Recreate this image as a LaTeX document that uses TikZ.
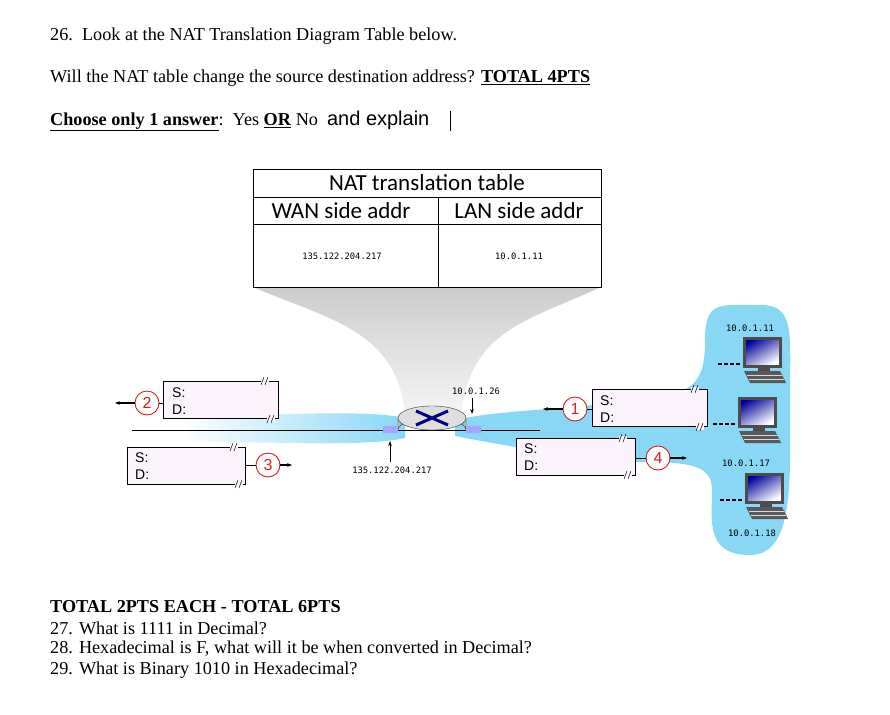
\documentclass[tikz,border=0pt]{standalone}
\usepackage{fontspec}
\setmainfont{Liberation Serif}
\newfontfamily\arialf{Liberation Sans}
\newfontfamily\calf{Carlito}
\newfontfamily\monof{DejaVu Sans Mono}
\usetikzlibrary{shapes.geometric,arrows.meta}
\definecolor{lb}{RGB}{135,215,245}
\definecolor{pinkish}{RGB}{252,244,252}
\definecolor{nred}{RGB}{215,30,30}
\begin{document}
\begin{tikzpicture}[x=1pt,y=-1pt,
  q/.style={anchor=west,inner sep=0,font=\fontsize{18.2}{20}\selectfont},
  sd/.style={draw,fill=pinkish,line width=0.7pt,minimum width=#1,minimum height=37,anchor=north west,inner sep=0},
  sdt/.style={anchor=west,inner sep=0,font=\arialf\fontsize{14}{15}\selectfont},
  num/.style={circle,draw=nred,line width=0.9pt,fill=white,minimum size=24,inner sep=0,text=nred,font=\arialf\fontsize{16}{16}\selectfont},
  ip/.style={font=\monof\fontsize{8.8}{9}\selectfont,inner sep=0},
  arr/.style={-{Stealth[length=5pt]},line width=1.2pt},
  brk/.style={line width=0.5pt}]
\useasboundingbox (0,0) rectangle (890,714);
\fill[white] (0,0) rectangle (890,714);
% text
\node[q] (t1) at (50,36) {26.\ \ Look at the NAT Translation Diagram Table below.};
\node[q] (t2) at (50,78) {Will the NAT table change the source destination address? \underline{\textbf{TOTAL 4PTS}}};
\node[q] (t3) at (50,121) {\underline{\textbf{Choose only 1 answer}}:\ \ Yes \underline{\textbf{OR}} No\ \ {\arialf\fontsize{20}{22}\selectfont and explain}};
\draw[line width=0.6pt] (450,111) -- (450,131);
\node[q] (b1) at (50,607) {\textbf{TOTAL 2PTS EACH - TOTAL 6PTS}};
\node[q] (b2) at (50,628) {27. What is 1111 in Decimal?};
\node[q] (b3) at (50,649) {28. Hexadecimal is F, what will it be when converted in Decimal?};
\node[q] (b4) at (50,670) {29. What is Binary 1010 in Hexadecimal?};
% blue regions
\shade[left color=white,right color=lb] (180,417) .. controls (300,414) and (370,410) .. (405,418) -- (405,438) .. controls (370,446) and (300,443) .. (180,441) -- cycle;
\fill[lb] (455,420) .. controls (500,410) and (560,410) .. (620,402) .. controls (690,395) and (705,390) .. (705,340)
  .. controls (705,300) and (720,305) .. (760,305) .. controls (795,305) and (790,330) .. (790,400)
  .. controls (790,480) and (795,555) .. (750,555) .. controls (705,555) and (712,520) .. (712,490)
  .. controls (712,465) and (690,462) .. (640,462) .. controls (590,460) and (500,445) .. (455,436) -- cycle;
% funnel
\shade[top color=gray!40,bottom color=gray!8] (253,287) .. controls (330,320) and (395,330) .. (405,412) -- (462,412) .. controls (470,330) and (530,320) .. (601,287) -- cycle;
% table
\draw[line width=0.7pt,fill=white] (253,169) rectangle (601,287);
\draw[line width=0.7pt] (253,197) -- (601,197) (253,224) -- (601,224) (438,197) -- (438,287);
\node[font=\calf\fontsize{23}{25}\selectfont] (tt) at (427,183) {NAT translation table};
\node[font=\calf\fontsize{23}{25}\selectfont] (wh) at (341,211) {WAN side addr};
\node[font=\calf\fontsize{23}{25}\selectfont] (lh) at (519,211) {LAN side addr};
\node[ip] (wv) at (342,256) {135.122.204.217};
\node[ip] (lv) at (519,256) {10.0.1.11};
% line
\draw[line width=0.9pt] (132,430) -- (540,430);
% router
\fill[gray!55] (398,418) -- (398,430) arc (180:360:34 and 12) -- (466,418) -- cycle;
\draw[gray!40!black,line width=0.4pt] (398,418) -- (398,430) arc (180:360:34 and 12) -- (466,418);
\node[ellipse,draw=gray!40!black,fill=gray!25,minimum width=68,minimum height=24,inner sep=0] (rt) at (432,418) {};
\draw[blue!50!black,line width=3pt] (416,411) -- (448,425) (448,411) -- (416,425);
\fill[blue!35!white] (383,426) rectangle (398,433) (466,426) rectangle (481,433);
\node[ip] (ipa) at (476,391) {10.0.1.26};
\coordinate (pa) at (472,414);
\draw[arr,line width=0.8pt] (472,398) -- (pa);
\node[ip] (ipb) at (392,470) {135.122.204.217};
\coordinate (pb) at (390,441);
\draw[arr,line width=0.8pt] (390,462) -- (pb);
% boxes
\node[sd=115] (bx2) at (163,381) {}; \node[sdt] at (172,393) {S:}; \node[sdt] at (172,410) {D:};
\node[sd=118] (bx3) at (127,447) {}; \node[sdt] at (135,458) {S:}; \node[sdt] at (135,475) {D:};
\node[sd=115] (bx1) at (592,389) {}; \node[sdt] at (600,401) {S:}; \node[sdt] at (600,418) {D:};
\node[sd=119] (bx4) at (516,438) {}; \node[sdt] at (524,449) {S:}; \node[sdt] at (524,466) {D:};
\foreach \x/\y in {265/381,271/419,234/447,239/484,695/389,700/427,623/438,628/475}{
  \fill[pinkish] (\x-4,\y-2.5) rectangle (\x+4,\y+2.5);
  \draw[brk] (\x-4,\y+4) -- (\x-1,\y-4) (\x,\y+4) -- (\x+3,\y-4);}
\node[num] (n2) at (147,403) {2}; \draw (n2) -- (bx2.west|-n2);
\coordinate (e2) at (115,403); \draw[arr] (n2) -- (e2);
\node[num] (n3) at (268,465) {3}; \draw (n3) -- (bx3.east|-n3);
\coordinate (e3) at (292,465); \draw[arr] (n3) -- (e3);
\node[num] (n1) at (575,409) {1}; \draw (n1) -- (bx1.west|-n1);
\coordinate (e1) at (543,409); \draw[arr] (n1) -- (e1);
\node[num] (n4) at (658,458) {4}; \draw (n4) -- (bx4.east|-n4);
\coordinate (e4) at (687,458); \draw[arr] (n4) -- (e4);
% computers
\foreach \cx/\cy/\nm in {760/352/c1,755/412/c2,762/488/c3}{
  \draw[line width=1.4pt,dash pattern=on 4pt off 2pt] (\cx-42,\cy+12) -- (\cx-20,\cy+12);
  \fill[gray!70!black] (\cx-16,\cy+19) -- (\cx+20,\cy+19) -- (\cx+26,\cy+31) -- (\cx-10,\cy+31) -- cycle;
  \draw[white!70!gray,line width=0.3pt] (\cx-13,\cy+23) -- (\cx+22,\cy+23) (\cx-11,\cy+27) -- (\cx+24,\cy+27);
  \fill[gray!60!black] (\cx-2,\cy+12) rectangle (\cx+10,\cy+19);
  \node[draw=gray!60!black,line width=3pt,minimum width=36,minimum height=28,inner sep=0,top color=blue!60!black,bottom color=white,shading angle=30] (\nm) at (\cx+2,\cy) {};
}
\node[ip] (l1) at (750,328) {10.0.1.11};
\node[ip] (l2) at (746,463) {10.0.1.17};
\node[ip] (l3) at (752,533) {10.0.1.18};
\end{tikzpicture}
\end{document}
